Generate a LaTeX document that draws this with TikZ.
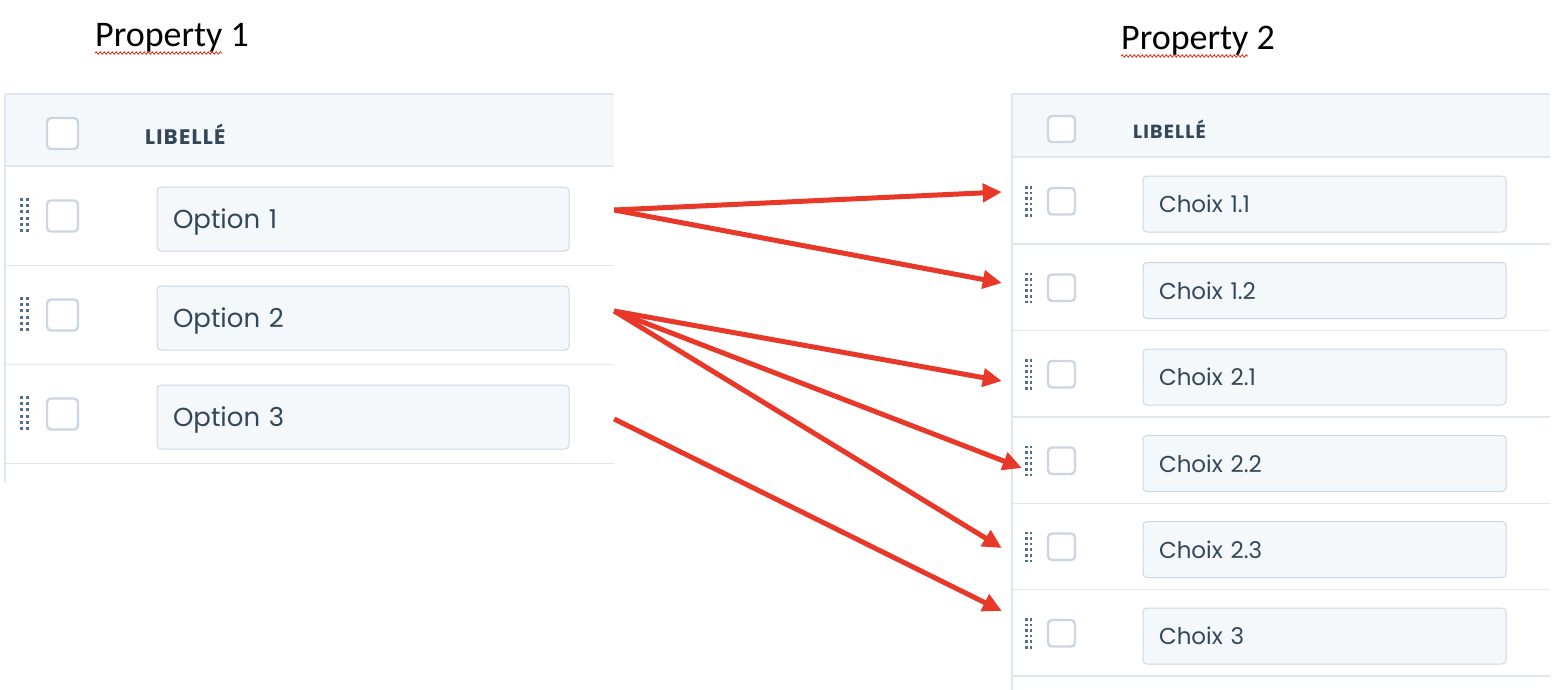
\documentclass[tikz,border=0pt]{standalone}
\usepackage{fontspec}
\usetikzlibrary{arrows.meta}
\usetikzlibrary{decorations.pathmorphing}
\newfontfamily\uifont{Poppins}
\newfontfamily\docfont{Carlito}
\definecolor{linkred}{HTML}{E8382A}
\definecolor{slate}{HTML}{33475B}
\definecolor{grip}{HTML}{516F90}
\definecolor{boxline}{HTML}{CBD6E2}
\definecolor{sepline}{HTML}{E1E6EE}
\definecolor{headfill}{HTML}{F5F8FA}

\begin{document}
\begin{tikzpicture}[x=1pt, y=-1pt,
    link/.style={draw=linkred, line width=5pt, -{Triangle[length=19pt,width=18pt]}},
    tick/.style={draw=boxline, line width=2.4pt, rounded corners=4pt, fill=white},
    field/.style={draw=boxline, line width=1pt, fill=headfill, rounded corners=4pt,
        inner xsep=16pt, inner ysep=0pt, align=left, text=slate, text depth=0pt, anchor=center},
    rowbox/.style={draw=none, inner sep=0pt},
    sep/.style={draw=sepline, line width=1.3pt},
    title/.style={anchor=base west, inner sep=0pt, font=\docfont\fontsize{36}{40}\selectfont},
    colhead/.style={anchor=west, inner sep=0pt, text=slate}]

    \useasboundingbox (0,0) rectangle (1562,690);

    % Titles
    \node[title] (ptitle1) at (95,47) {Property 1};
    \node[title] (ptitle2) at (1121,50) {Property 2};
    \draw[linkred, line width=0.9pt, decorate, decoration={snake, amplitude=1.2pt, segment length=4pt}]
        (95,53) -- (222,53);
    \draw[linkred, line width=0.9pt, decorate, decoration={snake, amplitude=1.2pt, segment length=4pt}]
        (1121,56) -- (1248,56);

    % Left table
    \fill[headfill] (5,94) rectangle (614,166);
    \draw[sep] (5,94) -- (614,94);
    \draw[sep] (5,166) -- (614,166);
    \draw[sep] (5,94) -- (5,482);
    \draw[tick] (47,118) rectangle (78,149);
    \node[colhead, font=\uifont\bfseries\addfontfeature{LetterSpace=6}\fontsize{21}{24}\selectfont]
        (lhead) at (145,134) {LIBELLÉ};
    \foreach \i/\y in {1/215.5, 2/314.5, 3/413.5} {
        \node[rowbox, minimum width=609pt, minimum height=99pt] (lrow\i) at (309.5,\y) {};
        \draw[sep] (lrow\i.south west) -- (lrow\i.south east);
        \draw[tick] (47,\y-15) rectangle (78,\y+16);
        \foreach \r in {0,...,5} {
            \fill[grip] (20,\y-17.5+\r*6.2) rectangle +(3,3);
            \fill[grip] (25.5,\y-17.5+\r*6.2) rectangle +(3,3);
        }
        \node[field, minimum width=412pt, minimum height=64pt, text width=380pt,
            font=\uifont\fontsize{26}{30}\selectfont] (opt\i) at (363,\y+3.5) {Option \i};
    }

    % Right table
    \fill[headfill] (1012,94) rectangle (1550,157);
    \draw[sep] (1012,94) -- (1550,94);
    \draw[sep] (1012,157) -- (1550,157);
    \draw[sep] (1012,94) -- (1012,690);
    \draw[tick] (1048,116) rectangle (1075,142);
    \node[colhead, font=\uifont\bfseries\addfontfeature{LetterSpace=6}\fontsize{19}{22}\selectfont]
        (rhead) at (1133,129) {LIBELLÉ};
    \foreach \i/\y/\t in {1/200.5/1.1, 2/287/1.2, 3/373.5/2.1, 4/460/2.2, 5/546/2.3, 6/632.5/3} {
        \node[rowbox, minimum width=538pt, minimum height=86.5pt] (rrow\i) at (1281,\y) {};
        \draw[sep] (rrow\i.south west) -- (rrow\i.south east);
        \draw[tick] (1048,\y-12.5) rectangle (1075,\y+14);
        \foreach \r in {0,...,5} {
            \fill[grip] (1025,\y-14.5+\r*5.6) rectangle +(2.6,2.6);
            \fill[grip] (1029.5,\y-14.5+\r*5.6) rectangle +(2.6,2.6);
        }
        \node[field, minimum width=361pt, minimum height=56pt, text width=331pt,
            font=\uifont\fontsize{23}{26}\selectfont] (ch\i) at (1324.5,\y+3.5) {Choix \t};
    }

    % Links between the two properties
    \coordinate (s1) at ([yshift=5.5pt]lrow1.east);
    \coordinate (s2) at ([yshift=3.5pt]lrow2.east);
    \coordinate (s3) at ([yshift=-5.5pt]lrow3.east);
    \coordinate (t1) at ([xshift=-10pt,yshift=8.5pt]rrow1.west);
    \coordinate (t2) at ([xshift=-10pt,yshift=4pt]rrow2.west);
    \coordinate (t3) at ([xshift=-10pt,yshift=-7.5pt]rrow3.west);
    \coordinate (t4) at ([xshift=10pt,yshift=-8pt]rrow4.west);
    \coordinate (t5) at ([xshift=-10pt,yshift=-2pt]rrow5.west);
    \coordinate (t6) at ([xshift=-10pt,yshift=21.5pt]rrow6.west);
    \foreach \a/\b in {s1/t1, s1/t2, s2/t3, s2/t4, s2/t5, s3/t6} {
        \draw[link] (\a) -- (\b);
    }

\end{tikzpicture}
\end{document}
